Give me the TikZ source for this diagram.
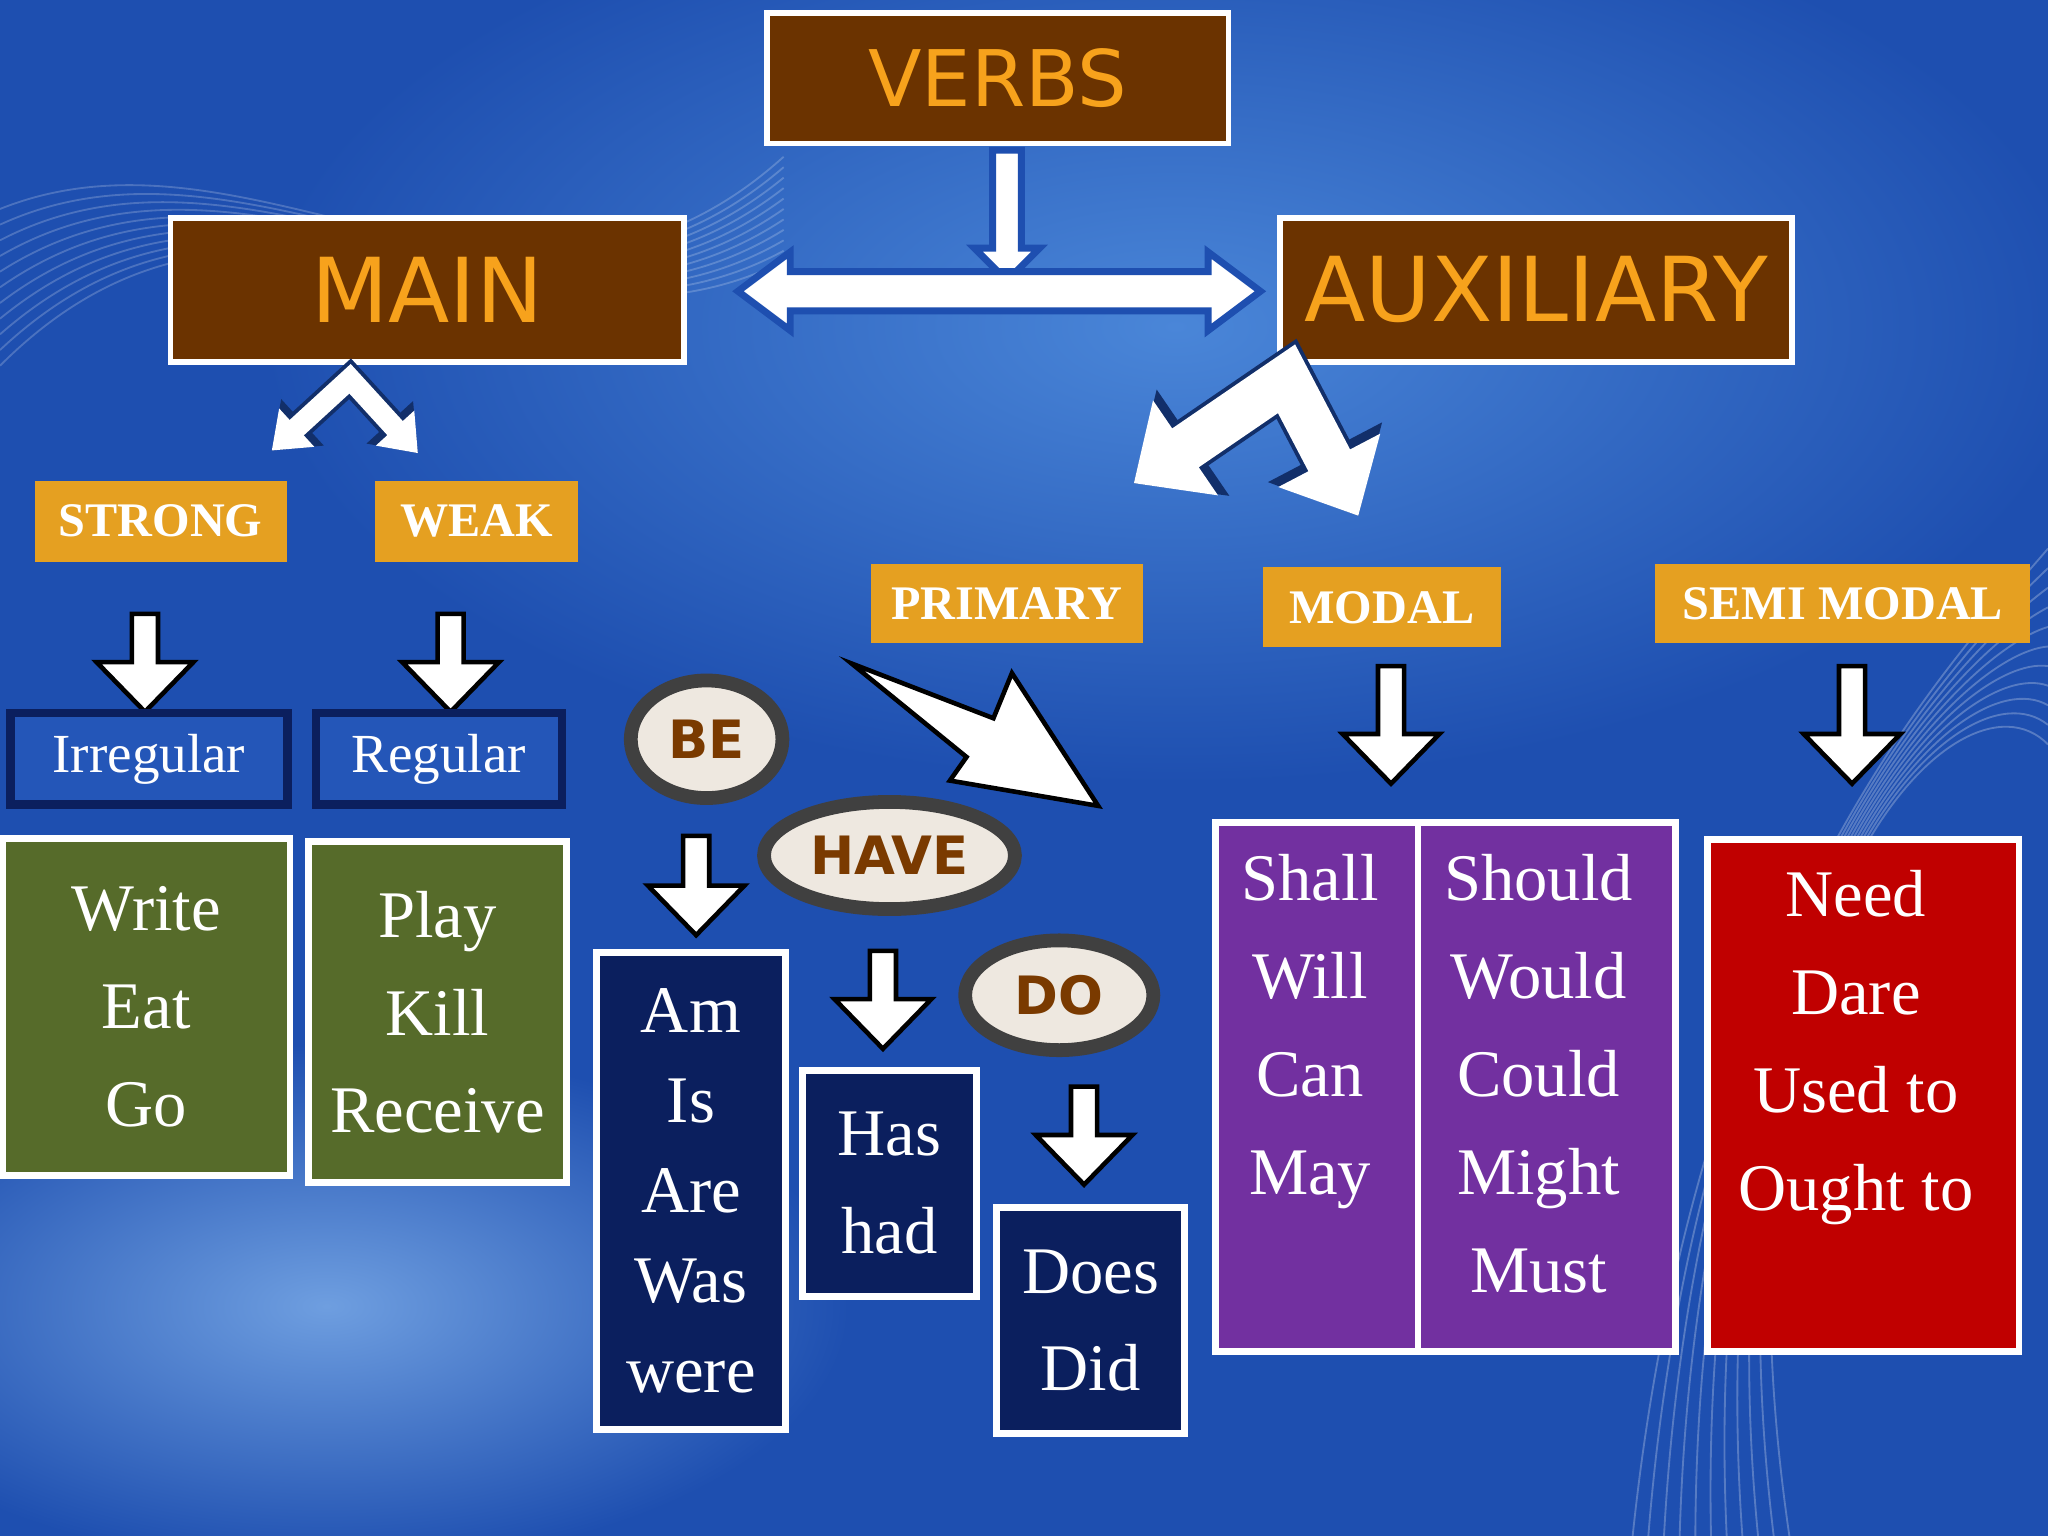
\documentclass[tikz,border=0pt]{standalone}
\usepackage{fontspec}
\setmainfont{Liberation Serif}
\newfontfamily\hd{DejaVu Sans}
\usetikzlibrary{arrows.meta,shapes.geometric}
\definecolor{bgblue}{HTML}{1E4FB0}
\definecolor{bglight}{HTML}{4A86D8}
\definecolor{brownbox}{HTML}{6B3300}
\definecolor{orangetxt}{HTML}{F7A21C}
\definecolor{lab}{HTML}{E5A021}
\definecolor{navy}{HTML}{0B1F5E}
\definecolor{olive}{HTML}{566B2A}
\definecolor{purp}{HTML}{7230A0}
\definecolor{redb}{HTML}{C00000}
\definecolor{ellf}{HTML}{EEE8E0}
\definecolor{elltxt}{HTML}{7A3A00}
\definecolor{irr}{HTML}{2456B8}
\tikzset{
 title/.style={draw=white,line width=1.2pt,fill=brownbox,text=orangetxt,font=\hd,inner sep=0pt},
 lab/.style={fill=lab,text=white,font=\bfseries\fontsize{10.5}{12}\selectfont,inner sep=0pt},
 wbox/.style={draw=white,line width=1.5pt,text=white,align=center,inner sep=0pt,font=\fontsize{14.5}{21.3}\selectfont},
 ibox/.style={draw=navy,line width=1.8pt,fill=irr,text=white,inner sep=0pt,font=\fontsize{12}{14}\selectfont},
 oval/.style={ellipse,draw=black!75,line width=3pt,fill=ellf,text=elltxt,inner sep=0pt,font=\hd\bfseries\fontsize{11.5}{13}\selectfont},
 darrow/.style={fill=white,draw=black,line width=1pt,line join=miter},
 ltxt/.style={text=white,align=center,anchor=north,font=\fontsize{14.5}{21.3}\selectfont},
}
\newcommand\darr[3]{\draw[darrow] (#1-10,#2) -- (#1+10,#2) -- (#1+10,#3-38) -- (#1+37,#3-38) -- (#1,#3) -- (#1-37,#3-38) -- (#1-10,#3-38) -- cycle;}
\begin{document}
\begin{tikzpicture}[x=0.01cm,y=-0.01cm]
\useasboundingbox (0,0) rectangle (1568,1176);
\fill[bgblue] (0,0) rectangle (1568,1176);
\begin{scope}
\clip (0,0) rectangle (1568,1176);
\shade[inner color=bglight,outer color=bgblue] (900,250) ellipse (700 and 350);
\shade[inner color=bglight!80,outer color=bgblue] (250,1000) ellipse (400 and 200);
\foreach \i in {0,...,10}{
 \draw[white,opacity=0.25,line width=0.4pt] (1250+\i*12,1176) .. controls (1300,700) and (1500,500) .. (1568,420+\i*15);
 \draw[white,opacity=0.2,line width=0.4pt] (0,160+\i*12) .. controls (200,80) and (400,300) .. (600,120+\i*8);
}
\end{scope}
% titles
\node[title,minimum width=3.53cm,minimum height=1.0cm,font=\hd\fontsize{17}{20}\selectfont] (verbs) at (764,60) {VERBS};
\node[title,minimum width=3.93cm,minimum height=1.1cm,font=\hd\fontsize{19.5}{22}\selectfont] (main) at (327,222) {MAIN};
\node[title,minimum width=3.92cm,minimum height=1.1cm,font=\hd\fontsize{19.5}{22}\selectfont] (aux) at (1176,222) {AUXILIARY};
% verbs arrows
\draw[darrow,draw=bgblue,line width=1.5pt] (760,115) -- (782,115) -- (782,190) -- (796,190) -- (771,215) -- (746,190) -- (760,190) -- cycle;
\draw[darrow,draw=bgblue,line width=1.5pt] (565,223) -- (605,193) -- (605,208) -- (925,208) -- (925,193) -- (965,223) -- (925,253) -- (925,238) -- (605,238) -- (605,253) -- cycle;
% chevrons
\draw[bgblue!60!black,line width=0.22cm,{Triangle[length=0.32cm,width=0.46cm]}-{Triangle[length=0.32cm,width=0.46cm]}] (208,345) -- (268,290) -- (320,347);
\draw[white,line width=0.16cm,{Triangle[length=0.26cm,width=0.38cm]}-{Triangle[length=0.26cm,width=0.38cm]}] (208,345) -- (268,290) -- (320,347);
\draw[bgblue!60!black,line width=0.42cm,{Triangle[length=0.55cm,width=0.95cm]}-{Triangle[length=0.55cm,width=0.95cm]}] (868,370) -- (985,290) -- (1040,395);
\draw[white,line width=0.36cm,{Triangle[length=0.48cm,width=0.85cm]}-{Triangle[length=0.48cm,width=0.85cm]}] (868,370) -- (985,290) -- (1040,395);
% labels
\node[lab,minimum width=1.93cm,minimum height=0.62cm] (strong) at (123,399) {STRONG};
\node[lab,minimum width=1.55cm,minimum height=0.62cm] (weak) at (365,399) {WEAK};
\node[lab,minimum width=2.08cm,minimum height=0.61cm] (primary) at (771,462) {PRIMARY};
\node[lab,minimum width=1.82cm,minimum height=0.61cm] (modal) at (1058,465) {MODAL};
\node[lab,minimum width=2.87cm,minimum height=0.61cm] (semi) at (1411,462) {SEMI MODAL};
% down arrows
\darr{111}{470}{545}
\darr{345}{470}{545}
\darr{1065}{510}{600}
\darr{1418}{510}{600}
\darr{533}{640}{716}
\darr{676}{728}{803}
\darr{830}{832}{907}
% irregular / regular
\node[ibox,minimum width=2.12cm,minimum height=0.7cm] (irr) at (114,581) {Irregular};
\node[ibox,minimum width=1.88cm,minimum height=0.7cm] (reg) at (336,581) {Regular};
\node[wbox,fill=olive,minimum width=2.2cm,minimum height=2.58cm] (strongw) at (112,771) {Write\\Eat\\Go};
\node[wbox,fill=olive,minimum width=1.98cm,minimum height=2.61cm] (weakw) at (335,775) {Play\\Kill\\Receive};
% ovals
\node[oval,minimum width=1.16cm,minimum height=0.9cm] (be) at (541,566) {BE};
\node[oval,minimum width=1.92cm,minimum height=0.82cm] (have) at (681,655) {HAVE};
\node[oval,minimum width=1.44cm,minimum height=0.84cm] (do) at (811,762) {DO};
% primary arrow
\begin{scope}[shift={(652,508)},rotate=-30]
\draw[darrow] (0,0) -- (115,-18) -- (110,-55) -- (218,0) -- (110,40) -- (112,18) -- cycle;
\end{scope}
% navy boxes
\node[wbox,fill=navy,minimum width=1.45cm,minimum height=3.65cm,font=\fontsize{14.5}{19.6}\selectfont] (be1) at (529,912) {Am\\Is\\Are\\Was\\were};
\node[wbox,fill=navy,minimum width=1.33cm,minimum height=1.73cm] (have1) at (681,906) {Has\\had};
\node[wbox,fill=navy,minimum width=1.44cm,minimum height=1.73cm] (do1) at (835,1011) {Does\\Did};
% modal
\node[wbox,fill=purp,minimum width=1.55cm,minimum height=4.05cm,anchor=north west] (m1) at (928,627) {};
\node[wbox,fill=purp,minimum width=1.97cm,minimum height=4.05cm,anchor=north west] (m2) at (1083,627) {};
\node[ltxt] (m1t) at (1003,642) {Shall\\Will\\Can\\May};
\node[ltxt] (m2t) at (1178,642) {Should\\Would\\Could\\Might\\Must};
% semi modal
\node[wbox,fill=redb,minimum width=2.38cm,minimum height=3.92cm,anchor=north west] (sm) at (1305,640) {};
\node[ltxt] (smt) at (1421,654) {Need\\Dare\\Used to\\Ought to};
\end{tikzpicture}
\end{document}
